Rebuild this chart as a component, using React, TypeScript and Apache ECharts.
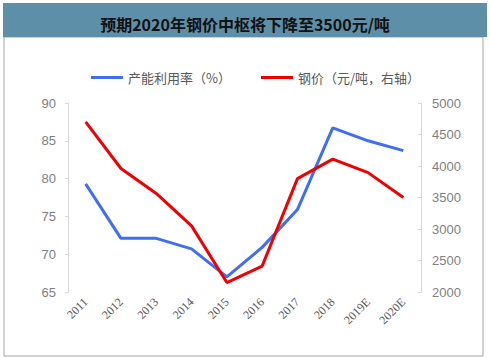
import React, { useEffect, useRef } from "react";
import * as echarts from "echarts";

const categories = ["2011", "2012", "2013", "2014", "2015", "2016", "2017", "2018", "2019E", "2020E"];
const utilization = [79.3, 72.1, 72.1, 70.7, 67.0, 70.9, 75.9, 86.7, 85.0, 83.7];
const steelPrice = [4700, 3960, 3565, 3050, 2150, 2410, 3800, 4110, 3895, 3500];
const leftTicks = { min: 65, max: 90, interval: 5 };
const rightTicks = { min: 2000, max: 5000, interval: 500 };
const titleText = "预期2020年钢价中枢将下降至3500元/吨";
const seriesNames = ["产能利用率（%）", "钢价（元/吨，右轴）"];

export default function App() {
  const ref = useRef<HTMLDivElement>(null);
  useEffect(() => {
    const chart = echarts.init(ref.current!, null, { renderer: "svg" });
    const axisLabelStyle = { color: "#7f7f7f", fontSize: 13, fontFamily: "Liberation Sans" };
    chart.setOption({
      animation: false,
      backgroundColor: "#ffffff",
      graphic: [
        { type: "rect", shape: { x: 4, y: 37, width: 479, height: 319 }, style: { fill: "#fff", stroke: "#a6a6a6", lineWidth: 1 }, z: -10 },
        { type: "rect", shape: { x: 3, y: 3, width: 484, height: 34 }, style: { fill: "#5e8fa8" }, z: -5 },
      ],
      title: {
        text: titleText,
        left: "center",
        top: 11,
        textStyle: { color: "#111", fontSize: 16, fontWeight: "bold", fontFamily: "Noto Sans CJK SC" },
      },
      legend: {
        top: 66,
        left: 86,
        itemWidth: 32,
        itemHeight: 3,
        itemGap: 30,
        itemTextGap: 4,
        icon: "rect",
        textStyle: { color: "#595959", fontSize: 13, fontFamily: "Noto Sans CJK SC" },
        data: seriesNames,
      },
      grid: { left: 68, right: 69, top: 103, bottom: 66 },
      xAxis: {
        type: "category",
        data: categories,
        boundaryGap: true,
        axisLine: { show: false },
        axisTick: { show: false },
        axisLabel: { rotate: 45, color: "#595959", fontSize: 12, fontFamily: "Liberation Serif", margin: 8, interval: 0 },
      },
      yAxis: [
        {
          type: "value",
          ...leftTicks,
          position: "left",
          splitLine: { show: false },
          axisLine: { show: true, lineStyle: { color: "#d9d9d9" } },
          axisTick: { show: true, length: 3, lineStyle: { color: "#d9d9d9" } },
          axisLabel: { ...axisLabelStyle, margin: 12 },
        },
        {
          type: "value",
          ...rightTicks,
          position: "right",
          splitLine: { show: false },
          axisLine: { show: true, lineStyle: { color: "#d9d9d9" } },
          axisTick: { show: true, inside: true, length: 3, lineStyle: { color: "#d9d9d9" } },
          axisLabel: { ...axisLabelStyle, margin: 11, formatter: (v: number) => String(v) },
        },
      ],
      series: [
        {
          name: seriesNames[0],
          type: "line",
          yAxisIndex: 0,
          data: utilization,
          symbol: "none",
          lineStyle: { color: "#3f6ff0", width: 3 },
          itemStyle: { color: "#3f6ff0" },
        },
        {
          name: seriesNames[1],
          type: "line",
          yAxisIndex: 1,
          data: steelPrice,
          symbol: "none",
          lineStyle: { color: "#f00000", width: 3 },
          itemStyle: { color: "#f00000" },
        },
      ],
    });
    return () => chart.dispose();
  }, []);
  return <div ref={ref} style={{ position: "fixed", left: 0, top: 0, width: 490, height: 358 }} />;
}
